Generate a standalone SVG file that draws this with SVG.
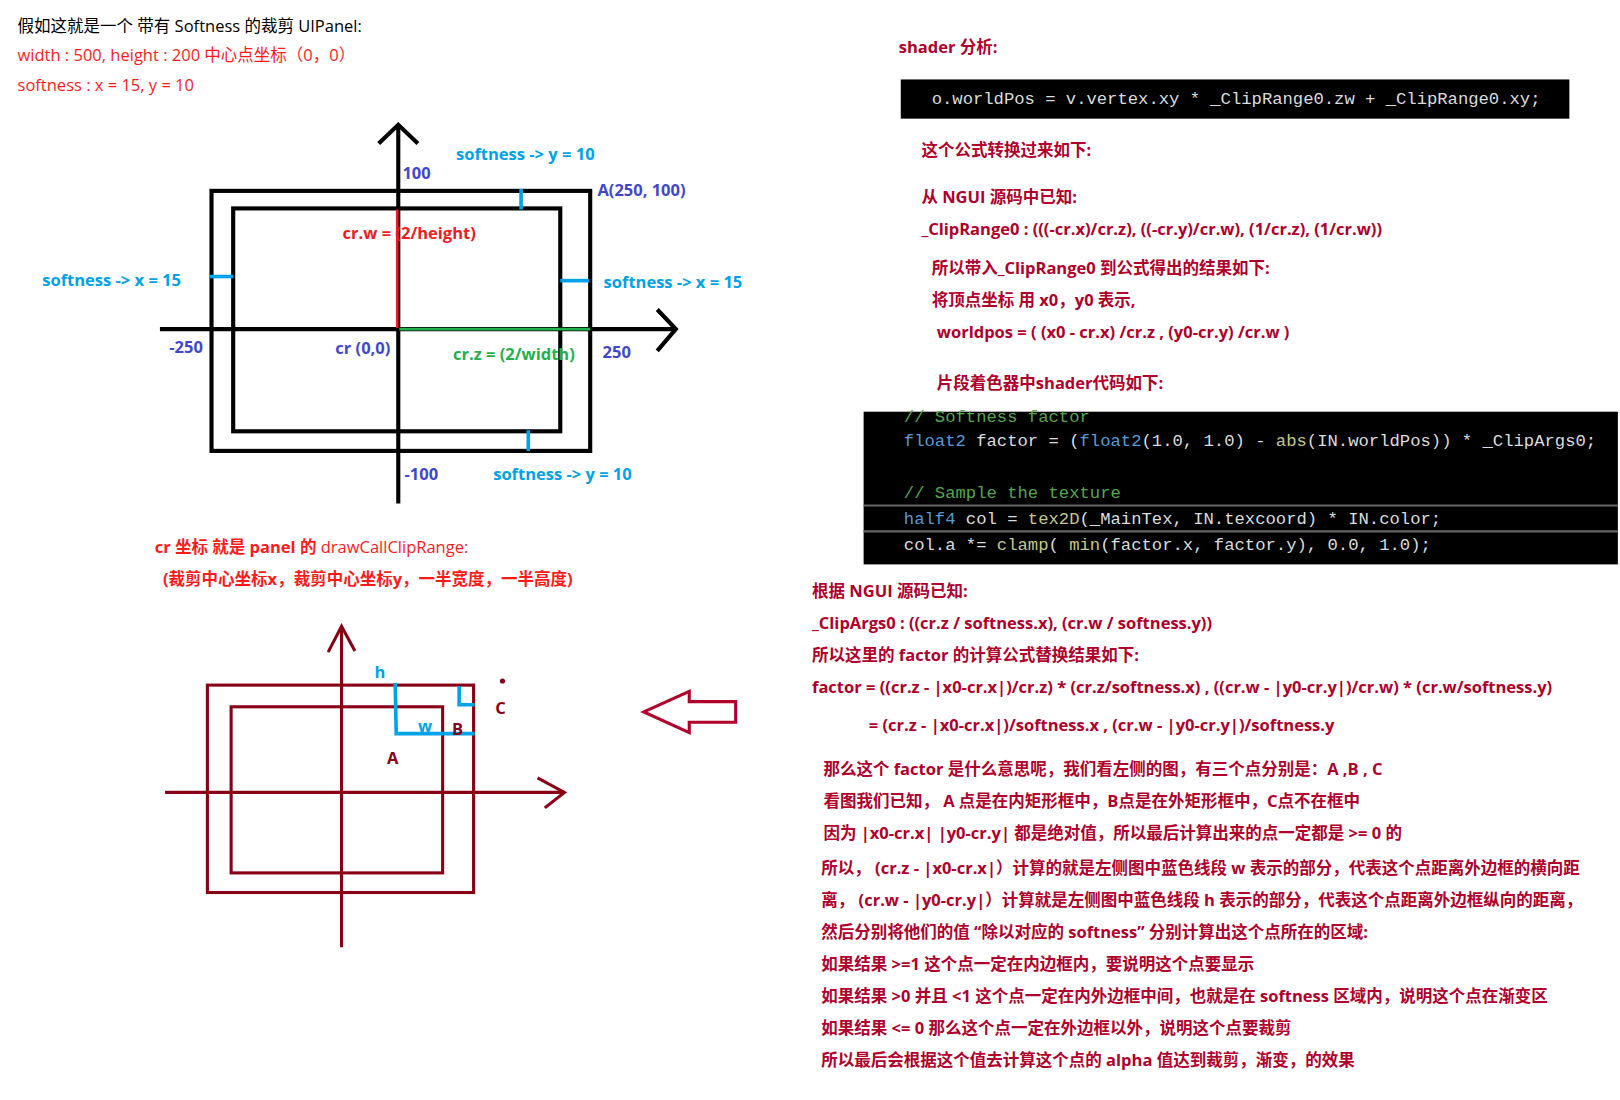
<svg xmlns="http://www.w3.org/2000/svg" width="1620" height="1100" viewBox="0 0 1620 1100">
<style>
text{font-family:"Open Sans","Noto Sans CJK SC",sans-serif;font-size:16px}
.b{font-weight:bold}
.blk{fill:#000}
.red{fill:#ff1a1a}
.sky{fill:#00a2e8;font-weight:bold}
.nv{fill:#3f48cc;font-weight:bold}
.dr{fill:#b0002b;font-weight:bold}
.mr{fill:#880015;font-weight:bold}
.code{font-family:"Liberation Mono",monospace;font-size:16.7px;fill:#dcdcdc}
.kw{fill:#569cd6}.fn{fill:#c8c88a}.cm{fill:#57a64a}
.ax{stroke:#000;stroke-width:4;fill:none}
.bx{stroke:#000;stroke-width:4;fill:none}
.m{stroke:#880015;stroke-width:3;fill:none}
.bl{stroke:#00a2e8;stroke-width:3.5;fill:none}
</style>
<rect width="1620" height="1100" fill="#fff"/>
<g transform="scale(1.0318)">
<g id="intro">
<text x="17" y="31" class="blk">假如这就是一个 带有 Softness 的裁剪 UIPanel:</text>
<text x="17" y="59" class="red">width : 500,  height : 200  中心点坐标（0，0）</text>
<text x="17" y="88" class="red">softness : x = 15, y = 10</text>
</g>
<g id="diagram1">
<rect x="205" y="185" width="367" height="252" class="bx"/>
<rect x="226" y="202" width="317" height="216" class="bx"/>
<line x1="386" y1="121" x2="386" y2="488" class="ax"/>
<polyline points="367,139 386,121 405,139" class="ax"/>
<line x1="155" y1="319" x2="655" y2="319" class="ax"/>
<polyline points="637,300 655,319 637,340" class="ax"/>
<line x1="385" y1="203" x2="385" y2="318" stroke="#ed1c24" stroke-width="2.5"/>
<line x1="387" y1="319" x2="572" y2="319" stroke="#22b14c" stroke-width="2.5"/>
<line x1="505" y1="183" x2="505" y2="203" class="bl"/>
<line x1="203" y1="268" x2="226" y2="268" class="bl"/>
<line x1="543" y1="272" x2="571" y2="272" class="bl"/>
<line x1="512" y1="417" x2="512" y2="437" class="bl"/>
<text x="442" y="155" class="sky">softness -&gt; y = 10</text>
<text x="41" y="277" class="sky">softness -&gt; x = 15</text>
<text x="585" y="279" class="sky">softness -&gt; x = 15</text>
<text x="478" y="465" class="sky">softness -&gt; y = 10</text>
<text x="390" y="173" class="nv">100</text>
<text x="579" y="190" class="nv">A(250, 100)</text>
<text x="164" y="342" class="nv">-250</text>
<text x="325" y="343" class="nv">cr (0,0)</text>
<text x="584" y="347" class="nv">250</text>
<text x="392" y="465" class="nv">-100</text>
<text x="332" y="232" fill="#ed1c24" class="b">cr.w = (2/height)</text>
<text x="439" y="349" fill="#22b14c" class="b">cr.z = (2/width)</text>
</g>
<g id="crnote">
<text x="150" y="536" class="red"><tspan class="b">cr 坐标 就是 panel 的</tspan> drawCallClipRange:</text>
<text x="158" y="567" class="red b">(裁剪中心坐标x，裁剪中心坐标y，一半宽度，一半高度)</text>
</g>
<g id="diagram2">
<rect x="201" y="664" width="258" height="201" class="m"/>
<rect x="224" y="685" width="205" height="161" class="m"/>
<line x1="331" y1="607" x2="331" y2="918" class="m"/>
<polyline points="318,632 331,607 344,631" class="m"/>
<line x1="160" y1="768" x2="547" y2="768" class="m"/>
<polyline points="521,754 547,768 528,783" class="m"/>
<polyline points="383,662 384,711 460,711" class="bl"/>
<polyline points="445,665 445,683 460,683" class="bl"/>
<circle cx="487" cy="660" r="2.5" fill="#880015"/>
<text x="363" y="657" class="sky">h</text>
<text x="405" y="709" class="sky">w</text>
<text x="438" y="712" class="mr">B</text>
<text x="375" y="740" class="mr">A</text>
<text x="480" y="692" class="mr">C</text>
</g>
<g id="arrow">
<polygon points="624,690 668,670 668,680 713,680 713,700 668,700 668,710" fill="#fff" stroke="#b0002b" stroke-width="3"/>
</g>
<g id="shader">
<text x="871" y="51" class="dr">shader 分析:</text>
<rect x="873" y="77" width="648" height="38" fill="#000"/>
<text x="903" y="101" class="code" textLength="590">o.worldPos = v.vertex.xy * _ClipRange0.zw + _ClipRange0.xy;</text>
<text x="893" y="151" class="dr">这个公式转换过来如下:</text>
<text x="893" y="197" class="dr">从 NGUI 源码中已知:</text>
<text x="893" y="228" class="dr">_ClipRange0 : (((-cr.x)/cr.z), ((-cr.y)/cr.w), (1/cr.z), (1/cr.w))</text>
<text x="903" y="266" class="dr">所以带入_ClipRange0 到公式得出的结果如下:</text>
<text x="903" y="297" class="dr">将顶点坐标 用 x0，y0 表示,</text>
<text x="908" y="328" class="dr">worldpos = ( (x0 - cr.x) /cr.z ,   (y0-cr.y) /cr.w )</text>
<text x="908" y="377" class="dr">片段着色器中shader代码如下:</text>
<rect x="837" y="399" width="731" height="148" fill="#000"/>
<line x1="837" y1="490" x2="1568" y2="490" stroke="#666" stroke-width="2"/>
<line x1="837" y1="515" x2="1568" y2="515" stroke="#666" stroke-width="2"/>
<text x="876" y="409" class="code cm">// Softness factor</text>
<text x="876" y="432" class="code"><tspan class="kw">float2</tspan> factor = (<tspan class="kw">float2</tspan>(1.0, 1.0) - <tspan class="fn">abs</tspan>(IN.worldPos)) * _ClipArgs0;</text>
<text x="876" y="483" class="code cm">// Sample the texture</text>
<text x="876" y="508" class="code"><tspan class="kw">half4</tspan> col = <tspan class="fn">tex2D</tspan>(_MainTex, IN.texcoord) * IN.color;</text>
<text x="876" y="533" class="code">col.a *= <tspan class="fn">clamp</tspan>( <tspan class="fn">min</tspan>(factor.x, factor.y), 0.0, 1.0);</text>
</g>
<g id="explain">
<text x="787" y="579" class="dr">根据 NGUI 源码已知:</text>
<text x="787" y="610" class="dr">_ClipArgs0 : ((cr.z / softness.x), (cr.w / softness.y))</text>
<text x="787" y="641" class="dr">所以这里的 factor 的计算公式替换结果如下:</text>
<text x="787" y="672" class="dr">factor = ((cr.z - |x0-cr.x|)/cr.z) * (cr.z/softness.x) , ((cr.w - |y0-cr.y|)/cr.w) * (cr.w/softness.y)</text>
<text x="842" y="708" class="dr">= (cr.z - |x0-cr.x|)/softness.x , (cr.w - |y0-cr.y|)/softness.y</text>
<text x="798" y="751" class="dr">那么这个 factor 是什么意思呢，我们看左侧的图，有三个点分别是：A ,B , C</text>
<text x="798" y="782" class="dr">看图我们已知，  A 点是在内矩形框中，B点是在外矩形框中，C点不在框中</text>
<text x="798" y="813" class="dr">因为 |x0-cr.x| |y0-cr.y| 都是绝对值，所以最后计算出来的点一定都是 &gt;= 0 的</text>
<text x="796" y="847" class="dr">所以，  (cr.z - |x0-cr.x|）计算的就是左侧图中蓝色线段 w 表示的部分，代表这个点距离外边框的横向距</text>
<text x="796" y="878" class="dr">离，  (cr.w - |y0-cr.y|）计算就是左侧图中蓝色线段 h 表示的部分，代表这个点距离外边框纵向的距离，</text>
<text x="796" y="909" class="dr">然后分别将他们的值 “除以对应的 softness” 分别计算出这个点所在的区域:</text>
<text x="796" y="940" class="dr">如果结果 &gt;=1 这个点一定在内边框内，要说明这个点要显示</text>
<text x="796" y="971" class="dr">如果结果 &gt;0 并且 &lt;1 这个点一定在内外边框中间，也就是在 softness 区域内，说明这个点在渐变区</text>
<text x="796" y="1002" class="dr">如果结果 &lt;= 0 那么这个点一定在外边框以外，说明这个点要裁剪</text>
<text x="796" y="1033" class="dr">所以最后会根据这个值去计算这个点的 alpha 值达到裁剪，渐变，的效果</text>
</g>
</g>
</svg>
